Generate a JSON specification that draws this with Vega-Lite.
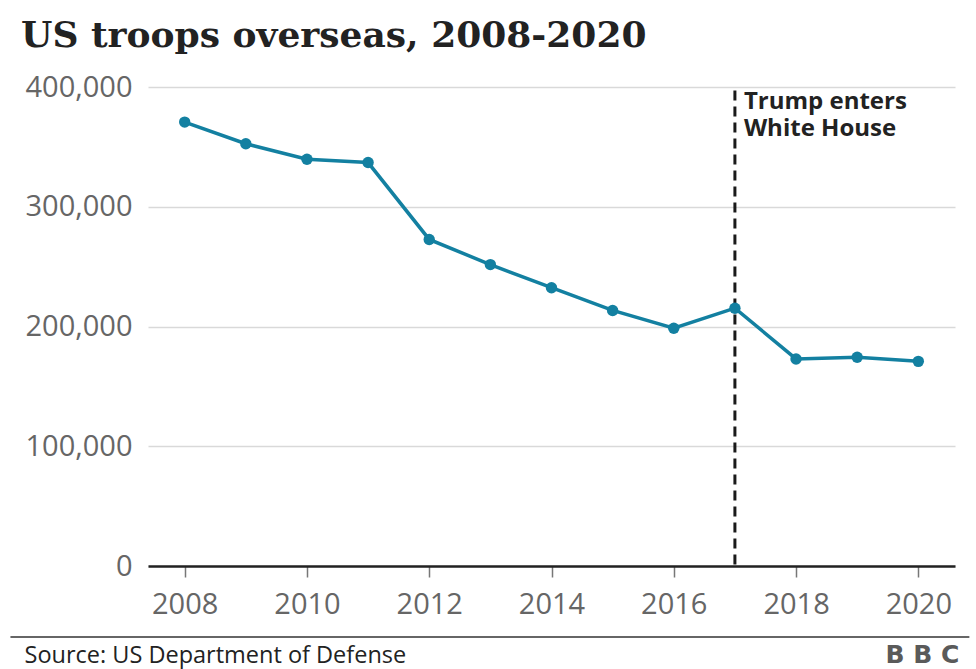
{
  "$schema": "https://vega.github.io/schema/vega-lite/v6.json",
  "autosize": {"type": "none"},
  "padding": {"left": 148, "top": 87, "right": 21, "bottom": 103},
  "width": 807,
  "height": 479,
  "background": "white",
  "title": {
    "text": "US troops overseas, 2008-2020",
    "anchor": "start",
    "frame": "group",
    "font": "DejaVu Serif",
    "fontSize": 36,
    "fontWeight": "bold",
    "color": "#222222",
    "dx": -127,
    "dy": 20,
    "baseline": "alphabetic",
    "offset": 10
  },
  "config": {
    "view": {"stroke": null},
    "font": "Open Sans"
  },
  "data": {
    "values": [
      {"year": 2008, "troops": 370700},
      {"year": 2009, "troops": 352600},
      {"year": 2010, "troops": 339700},
      {"year": 2011, "troops": 336900},
      {"year": 2012, "troops": 272700},
      {"year": 2013, "troops": 251700},
      {"year": 2014, "troops": 232400},
      {"year": 2015, "troops": 213400},
      {"year": 2016, "troops": 198600},
      {"year": 2017, "troops": 215300},
      {"year": 2018, "troops": 172900},
      {"year": 2019, "troops": 174300},
      {"year": 2020, "troops": 170900}
    ]
  },
  "encoding": {
    "x": {
      "field": "year",
      "type": "quantitative",
      "scale": {"domain": [2007.4, 2020.6], "nice": false, "zero": false},
      "axis": {
        "values": [2008, 2010, 2012, 2014, 2016, 2018, 2020],
        "format": "d",
        "grid": false,
        "domainColor": "#222222",
        "domainWidth": 2.5,
        "tickColor": "#777777",
        "tickWidth": 1.5,
        "tickSize": 11,
        "labelFont": "Open Sans",
        "labelFontSize": 29,
        "labelColor": "#666666",
        "labelPadding": 13,
        "title": "Source: US Department of Defense",
        "titleFont": "Open Sans",
        "titleFontSize": 23.5,
        "titleFontWeight": "normal",
        "titleColor": "#222222",
        "titleAnchor": "start",
        "titleAlign": "left",
        "titleBaseline": "alphabetic",
        "titleX": -124,
        "titleY": 96
      }
    },
    "y": {
      "field": "troops",
      "type": "quantitative",
      "scale": {"domain": [0, 400000], "nice": false},
      "axis": {
        "values": [0, 100000, 200000, 300000, 400000],
        "format": ",d",
        "domain": false,
        "ticks": false,
        "gridColor": "#d9d9d9",
        "gridWidth": 1.5,
        "labelFont": "Open Sans",
        "labelFontSize": 29,
        "labelColor": "#666666",
        "labelPadding": 16,
        "title": "B B C",
        "titleAngle": 0,
        "titleFont": "DejaVu Sans",
        "titleFontSize": 25,
        "titleFontWeight": "bold",
        "titleColor": "#5a5a5a",
        "titleAlign": "left",
        "titleBaseline": "alphabetic",
        "titleX": 737,
        "titleY": 575
      }
    }
  },
  "layer": [
    {
      "transform": [{"filter": "datum.year == 2017"}],
      "mark": {"type": "rule", "color": "#333333", "strokeWidth": 1.5},
      "encoding": {
        "x": {"datum": 2005.15},
        "x2": {"datum": 2020.835},
        "y": {"datum": -59300}
      }
    },
    {
      "transform": [{"filter": "datum.year == 2017"}],
      "mark": {"type": "rule", "color": "#1a1a1a", "strokeWidth": 3, "strokeDash": [10, 6]},
      "encoding": {
        "x": {"datum": 2017},
        "y": {"datum": 397000},
        "y2": {"datum": 0}
      }
    },
    {
      "transform": [{"filter": "datum.year == 2017"}],
      "mark": {
        "type": "text",
        "align": "left",
        "baseline": "alphabetic",
        "font": "Open Sans",
        "fontSize": 24,
        "fontWeight": "bold",
        "color": "#222222",
        "dx": 9,
        "dy": 22,
        "lineHeight": 27
      },
      "encoding": {
        "x": {"datum": 2017},
        "y": {"datum": 400000},
        "text": {"value": ["Trump enters", "White House"]}
      }
    },
    {
      "mark": {"type": "line", "color": "#1380A1", "strokeWidth": 3.5},
      "encoding": {}
    },
    {
      "mark": {"type": "point", "filled": true, "color": "#1380A1", "size": 130, "opacity": 1},
      "encoding": {}
    }
  ]
}
